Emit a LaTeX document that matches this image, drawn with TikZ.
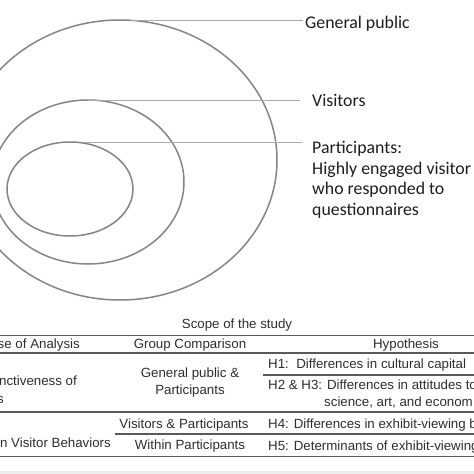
\documentclass[tikz,border=0pt]{standalone}
\usepackage{fontspec}
\setmainfont{Liberation Sans}
\newfontfamily\calib{Carlito}
\definecolor{ringgray}{HTML}{858585}
\definecolor{leadgray}{HTML}{ABABAB}
\definecolor{rulegray}{HTML}{5A5A5A}
\definecolor{txtdark}{HTML}{1E1E1E}
\definecolor{tbltxt}{HTML}{2E2E2E}
\begin{document}
\begin{tikzpicture}[x=1pt,y=-1pt,
  ring/.style={draw=ringgray,line width=1.5pt},
  leader/.style={draw=leadgray,line width=0.9pt},
  rulel/.style={draw=rulegray,line width=1.3pt},
  lab/.style={font=\calib\fontsize{17.8}{20.7}\selectfont,text=txtdark,inner sep=0pt,anchor=base west},
  tcell/.style={font=\fontsize{13.3}{17}\selectfont,text=tbltxt,inner sep=0pt,anchor=base},
  tleft/.style={tcell,anchor=base west},
  tright/.style={tcell,anchor=base east}]
\useasboundingbox (0,0) rectangle (474,474);
\clip (0,0) rectangle (474,474);
\fill[white] (0,0) rectangle (474,474);
\fill[black!7] (0,471) rectangle (474,474);
% rings
\draw[ring] (120,160) ellipse [x radius=157, y radius=140];
\draw[ring] (88,182) ellipse [x radius=96, y radius=82];
\draw[ring] (70,189) ellipse [x radius=63, y radius=47];
% labels
\node[lab] (gp) at (305,28) {General public};
\node[lab] (vi) at (312,106) {Visitors};
\node[lab,align=left] (pa) at (312,215.5) {Participants:\\Highly engaged visitor\\who responded to\\questionnaires};
\coordinate (gpL) at (130,20);
\coordinate (viL) at (88,100);
\coordinate (paL) at (84,142);
\coordinate (gpR) at (303,20);
\coordinate (viR) at (300,100);
\coordinate (paR) at (302,142);
\draw[leader] (gpL) -- (gpR);
\draw[leader] (viL) -- (viR);
\draw[leader] (paL) -- (paR);
% table
\node[tcell] (scope) at (237,328) {Scope of the study};
\draw[rulel] (0,335.5) -- (474,335.5);
\draw[rulel] (0,353) -- (474,353);
\draw[rulel] (263,375) -- (474,375);
\draw[rulel] (0,412) -- (474,412);
\draw[rulel] (115,434) -- (474,434);
\draw[rulel] (0,456.5) -- (474,456.5);
\node[tright] (h1) at (80,348) {se of Analysis};
\node[tcell] (h2) at (190,348) {Group Comparison};
\node[tcell] (h3) at (406,348) {Hypothesis};
\node[tright] (r1a) at (77,385) {nctiveness of};
\node[tright] (r1b) at (4,403) {s};
\node[tright] (r2a) at (111,447) {n Visitor Behaviors};
\node[tcell] (g1) at (190,377) {General public \&};
\node[tcell] (g2) at (190,394) {Participants};
\node[tcell] (g3) at (184,428) {Visitors \& Participants};
\node[tcell] (g4) at (190,449) {Within Participants};
\node[tleft] (y1) at (268,368) {H1:\ \ Differences in cultural capital};
\node[tleft] (y2) at (268,389) {H2 \& H3: Differences in attitudes to};
\node[tleft] (y3) at (324,406) {science, art, and econom};
\node[tleft] (y4) at (268,428) {H4: Differences in exhibit-viewing b};
\node[tleft] (y5) at (268,450) {H5: Determinants of exhibit-viewing};
\end{tikzpicture}
\end{document}
